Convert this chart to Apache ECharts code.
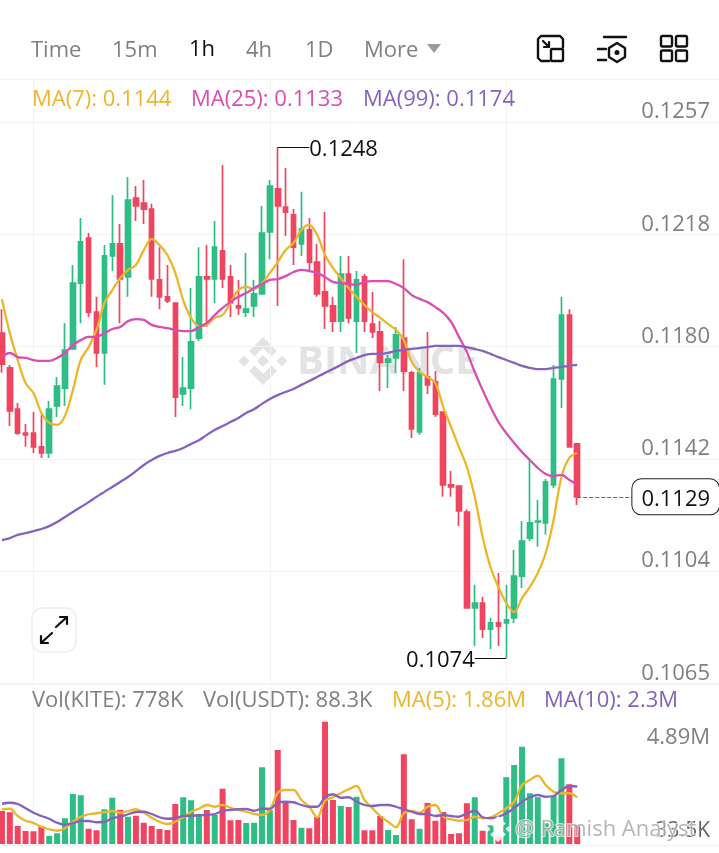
<!DOCTYPE html>
<html><head><meta charset="utf-8">
<style>html,body{margin:0;padding:0;background:#fff}#c{width:719px;height:853px}</style>
<script src="https://cdn.jsdelivr.net/npm/echarts@6/dist/echarts.min.js"></script>
</head><body><div id="c"></div>
<script>
const opens=[0.11848,0.11729,0.11588,0.11506,0.11506,0.11459,0.11438,0.11599,0.11660,0.11794,0.12019,0.12173,0.11920,0.11780,0.12112,0.12153,0.12040,0.12310,0.12293,0.12272,0.12030,0.11972,0.11951,0.11640,0.11660,0.11831,0.12040,0.12033,0.12129,0.12040,0.11941,0.11920,0.11941,0.11982,0.12194,0.12341,0.12279,0.12252,0.12153,0.12201,0.12091,0.11989,0.11941,0.11889,0.12050,0.11889,0.12040,0.11879,0.11852,0.11749,0.11763,0.11831,0.11712,0.11510,0.11698,0.11681,0.11578,0.11329,0.11325,0.11236,0.10908,0.10925,0.10836,0.10857,0.10857,0.10874,0.11017,0.11147,0.11202,0.11199,0.11329,0.11691,0.11910,0.11469];
const closes=[0.11742,0.11582,0.11506,0.11500,0.11459,0.11438,0.11588,0.11667,0.11790,0.12019,0.12160,0.11920,0.11780,0.12112,0.12153,0.12033,0.12303,0.12283,0.12272,0.12033,0.11972,0.11958,0.11629,0.11660,0.11818,0.12040,0.12033,0.12142,0.12033,0.11951,0.11934,0.11930,0.11982,0.12190,0.12351,0.12283,0.12262,0.12142,0.12204,0.12091,0.11982,0.11941,0.11889,0.12050,0.11900,0.12030,0.11889,0.11852,0.11749,0.11759,0.11842,0.11718,0.11520,0.11712,0.11671,0.11571,0.11329,0.11322,0.11240,0.10908,0.10925,0.10836,0.10857,0.10846,0.10867,0.11017,0.11137,0.11199,0.11205,0.11339,0.11691,0.11910,0.11459,0.11288];
const highs=[0.11930,0.11739,0.11609,0.11537,0.11578,0.11568,0.11616,0.11698,0.11882,0.12081,0.12242,0.12190,0.11972,0.12149,0.12320,0.12221,0.12382,0.12351,0.12372,0.12290,0.12142,0.12081,0.11951,0.11766,0.12002,0.12142,0.12149,0.12231,0.12423,0.12081,0.12030,0.12122,0.12030,0.12283,0.12372,0.12484,0.12413,0.12272,0.12331,0.12242,0.12153,0.12262,0.11972,0.12112,0.12112,0.12060,0.12050,0.11989,0.11889,0.11773,0.11869,0.12101,0.11718,0.11729,0.11852,0.11718,0.11578,0.11376,0.11325,0.11246,0.10987,0.10946,0.10874,0.11028,0.10987,0.11106,0.11205,0.11417,0.11277,0.11349,0.11739,0.11972,0.11930,0.11469];
const lows=[0.11712,0.11530,0.11500,0.11459,0.11438,0.11421,0.11421,0.11561,0.11599,0.11790,0.11882,0.11903,0.11732,0.11671,0.12060,0.11882,0.11972,0.12231,0.12221,0.11972,0.11930,0.11951,0.11561,0.11599,0.11588,0.11821,0.11869,0.11951,0.12002,0.11903,0.11910,0.11903,0.11903,0.11982,0.12101,0.11941,0.12180,0.12081,0.12112,0.12064,0.11972,0.11862,0.11852,0.11852,0.11882,0.11780,0.11852,0.11831,0.11650,0.11660,0.11712,0.11650,0.11489,0.11500,0.11640,0.11561,0.11288,0.11288,0.11188,0.10908,0.10778,0.10805,0.10768,0.10778,0.10737,0.10857,0.10976,0.11137,0.11117,0.11158,0.11318,0.11592,0.11459,0.11260];
const ma7=[0.11965,0.11848,0.11756,0.11677,0.11643,0.11575,0.11541,0.11534,0.11565,0.11653,0.11756,0.11800,0.11859,0.11951,0.11995,0.12036,0.12064,0.12081,0.12132,0.12170,0.12149,0.12115,0.12054,0.11961,0.11900,0.11872,0.11876,0.11900,0.11910,0.11951,0.11995,0.12006,0.11999,0.12019,0.12054,0.12091,0.12132,0.12156,0.12201,0.12218,0.12184,0.12115,0.12071,0.12036,0.12002,0.11972,0.11944,0.11920,0.11900,0.11879,0.11859,0.11824,0.11749,0.11715,0.11698,0.11677,0.11595,0.11527,0.11458,0.11390,0.11288,0.11151,0.11048,0.10980,0.10925,0.10894,0.10942,0.10980,0.11028,0.11096,0.11209,0.11356,0.11421,0.11438];
const ma25=[0.11766,0.11780,0.11766,0.11763,0.11756,0.11753,0.11753,0.11763,0.11780,0.11807,0.11824,0.11835,0.11835,0.11848,0.11862,0.11869,0.11889,0.11896,0.11893,0.11876,0.11869,0.11865,0.11859,0.11855,0.11855,0.11869,0.11883,0.11910,0.11934,0.11954,0.11972,0.11985,0.12002,0.12016,0.12030,0.12033,0.12043,0.12057,0.12064,0.12060,0.12054,0.12040,0.12023,0.12019,0.12016,0.12013,0.12023,0.12026,0.12026,0.12026,0.12016,0.12002,0.11978,0.11965,0.11954,0.11937,0.11917,0.11886,0.11835,0.11783,0.11715,0.11653,0.11595,0.11544,0.11506,0.11472,0.11441,0.11414,0.11387,0.11366,0.11359,0.11363,0.11346,0.11329];
const ma99=[0.11140,0.11147,0.11158,0.11164,0.11171,0.11178,0.11188,0.11202,0.11219,0.11236,0.11253,0.11270,0.11288,0.11305,0.11322,0.11339,0.11356,0.11376,0.11397,0.11414,0.11428,0.11438,0.11445,0.11455,0.11469,0.11482,0.11500,0.11517,0.11530,0.11544,0.11558,0.11575,0.11588,0.11606,0.11623,0.11636,0.11647,0.11657,0.11671,0.11684,0.11698,0.11712,0.11725,0.11739,0.11753,0.11763,0.11773,0.11777,0.11777,0.11780,0.11787,0.11790,0.11794,0.11797,0.11800,0.11804,0.11804,0.11804,0.11804,0.11800,0.11794,0.11787,0.11777,0.11766,0.11756,0.11746,0.11736,0.11729,0.11725,0.11725,0.11729,0.11732,0.11736,0.11739];
const volumes=[1.32,1.27,0.72,0.52,0.51,0.72,0.32,0.43,1.03,2.0,1.95,0.61,0.55,1.39,1.85,1.37,1.09,1.13,0.85,0.72,0.6,0.56,1.6,1.87,1.75,1.15,1.36,1.16,2.21,0.95,0.96,0.84,0.85,3.07,1.36,3.76,1.65,0.96,0.65,0.63,1.09,4.89,1.76,1.52,1.48,1.89,0.55,0.55,1.12,0.56,0.36,3.59,0.99,0.61,1.64,0.93,1.28,0.4,0.43,1.63,1.87,0.53,0.75,0.29,2.67,3.16,3.89,2.03,1.87,0.83,1.92,3.43,2.39,0.778];
const volMa5=[1.39,1.41,1.12,0.93,0.84,0.69,0.59,0.53,0.63,0.89,1.09,1.19,1.23,1.27,1.32,1.25,1.32,1.39,1.25,1.05,0.89,0.8,0.89,1.07,1.29,1.41,1.56,1.49,1.56,1.45,1.36,1.29,1.2,1.16,1.36,2.05,2.16,2.16,1.76,1.49,1.07,1.73,1.87,2.03,2.19,2.32,1.76,1.43,1.12,0.89,0.67,1.23,1.32,1.25,1.49,1.56,1.09,0.99,0.93,0.96,1.09,1.03,1.07,1.23,1.43,1.69,2.36,2.56,2.73,2.36,2.09,2.03,2.03,1.86];
const volMa10=[1.61,1.65,1.6,1.43,1.25,1.12,1.01,0.85,0.77,0.83,0.92,0.92,0.87,0.89,1.03,1.09,1.19,1.28,1.29,1.2,1.07,1.01,1.03,1.12,1.13,1.15,1.16,1.2,1.32,1.36,1.39,1.4,1.33,1.41,1.41,1.65,1.69,1.67,1.56,1.49,1.49,1.87,1.99,1.85,1.87,1.69,1.56,1.52,1.56,1.56,1.49,1.39,1.29,1.2,1.2,1.12,1.16,1.12,1.09,1.23,1.33,1.07,1.03,1.09,1.23,1.43,1.69,1.87,1.96,1.89,1.92,2.16,2.32,2.3];
const priceTicks=[0.1065,0.11034,0.11418,0.11802,0.12186,0.1257];
const priceTickLabels=['0.1065','0.1104','0.1142','0.1180','0.1218','0.1257'];
const periodTabs=['Time','15m','1h','4h','1D','More'];
const maLegend=['MA(7): 0.1144','MA(25): 0.1133','MA(99): 0.1174'];
const volLegend=['Vol(KITE): 778K','Vol(USDT): 88.3K','MA(5): 1.86M','MA(10): 2.3M'];
const volTickLabels=['4.89M','33.5K'];
const categories=Array.from({length:92},(_,i)=>String(i));

const GREEN='#2EBD85',RED='#EF4560',YEL='#EDB62A',MAG='#D94DB5',PUR='#8562BE',GRID='#F3F3F3',GRAY='#808080';
const FONT='"Open Sans"';
const txt=(s,x,y,fill,size,extra)=>({type:'text',z:20,style:Object.assign({text:s,x,y,fill,font:size+'px '+FONT,textVerticalAlign:'middle',textBaseline:'middle'},extra||{})});
const stroke=(w,c)=>({stroke:c||'#111',lineWidth:w,fill:'none',lineCap:'round',lineJoin:'round'});
const line=(pts,w,c)=>({type:'polyline',z:20,shape:{points:pts},style:stroke(w,c)});
const box=(x,y,w,h,r,lw,c)=>({type:'rect',z:20,shape:{x,y,width:w,height:h,r},style:stroke(lw,c)});
const poly=(cx,cy,pts,c,z)=>({type:'polygon',z:z,shape:{points:pts.map(p=>[cx+p[0],cy+p[1]])},style:{fill:c}});
const logo=(cx,cy,s,c,z)=>[
  [[0,-6],[6,0],[0,6],[-6,0]],
  [[-19,-5.5],[-13.5,0],[-19,5.5],[-24.5,0]],
  [[19,-5.5],[24.5,0],[19,5.5],[13.5,0]],
  [[0,-24],[14,-10],[8.5,-4.5],[0,-13],[-8.5,-4.5],[-14,-10]],
  [[0,24],[14,10],[8.5,4.5],[0,13],[-8.5,4.5],[-14,10]]
].map(p=>poly(cx,cy,p.map(q=>[q[0]*s,q[1]*s]),c,z));

const graphic=[
  txt(periodTabs[0],31,51,GRAY,22),txt(periodTabs[1],112,51,GRAY,22),
  txt(periodTabs[2],189,50,'#111',22),txt(periodTabs[3],246,51,GRAY,22),
  txt(periodTabs[4],305,51,GRAY,22),txt(periodTabs[5],364,51,GRAY,22),
  {type:'polygon',z:20,shape:{points:[[427,44],[441,44],[434,53]]},style:{fill:'#9a9a9a'}},
  line([[549,61],[541,61],[538,58],[538,39],[541,36],[560,36],[563,39],[563,47]],2.4),
  box(551,49,12,12,1,2.4),line([[543,41],[549,47]],2.2),line([[549,42],[549,47],[544,47]],2.2),
  line([[604,37],[626,37]],2.4),line([[598,49],[606,49]],2.4),line([[598,60],[606,60]],2.4),
  {type:'polygon',z:20,shape:{points:[[617,43],[625,48],[625,57],[617,62],[609,57],[609,48]]},style:stroke(2.4)},
  {type:'circle',z:20,shape:{cx:617,cy:52.5,r:2.5},style:{fill:'#111'}},
  box(661,36,11,10.5,1.5,2.4),box(676,36,11,10.5,1.5,2.4),box(661,50.5,11,10.5,1.5,2.4),box(676,50.5,11,10.5,1.5,2.4),
  txt(maLegend[0],32,100,YEL,22),txt(maLegend[1],191,100,MAG,22),txt(maLegend[2],363,100,PUR,22),
  txt(volLegend[0],32,701,GRAY,22),txt(volLegend[1],203,701,GRAY,22),txt(volLegend[2],392,701,YEL,22),txt(volLegend[3],544,701,PUR,22),
  txt(volTickLabels[0],710,738,GRAY,22,{textAlign:'right'}),
  {type:'rect',z:20,shape:{x:32,y:608,width:44,height:44,r:10},style:{stroke:'#EEEEEE',lineWidth:1.5,fill:'#fff'}},
  line([[56,627],[67,617]],2.2),line([[60,617],[67,617],[67,624]],2.2),
  line([[52,633],[41,643]],2.2),line([[41,636],[41,643],[48,643]],2.2),
  {type:'text',z:-1,style:{text:'BINANCE',x:297,y:363,fill:'#E3E3E3',font:'bold 40px "Open Sans"',textVerticalAlign:'middle',textBaseline:'middle'}},
  ...logo(263,361,1,'#E3E3E3',-1),
  ...logo(498,829,0.55,'rgba(255,255,255,0.85)',30),
  {type:'text',z:30,style:{text:'@ Ramish Analyst',x:515,y:830,fill:'rgba(120,120,120,0.55)',stroke:'rgba(255,255,255,0.7)',lineWidth:2,font:'22px "Open Sans"',textVerticalAlign:'middle',textBaseline:'middle'}},
  txt(volTickLabels[1],710,831,'rgba(70,70,70,0.85)',21,{textAlign:'right'}),
  {type:'line',z:0,shape:{x1:0,y1:79.5,x2:719,y2:79.5},style:{stroke:GRID,lineWidth:1}},
  {type:'line',z:0,shape:{x1:0,y1:684.5,x2:719,y2:684.5},style:{stroke:GRID,lineWidth:1}},
  {type:'line',z:0,shape:{x1:0,y1:845.5,x2:719,y2:845.5},style:{stroke:GRID,lineWidth:1}}
];

const vSplit={show:true,interval:i=>(i%30)===4,alignWithLabel:true,lineStyle:{color:GRID,width:1}};
const maLine=(name,data,color,xi,w)=>({name,type:'line',data,xAxisIndex:xi,yAxisIndex:xi,showSymbol:false,smooth:0.35,z:5,silent:true,lineStyle:{color,width:w||2.3},animation:false});
const richT={t:{color:'#111',fontSize:22,fontFamily:'Open Sans',padding:[5,0,0,0]}};
const calloutLabel={show:true,position:'end',distance:0,rich:richT};
const last=closes[closes.length-1];
const candle=opens.map((o,i)=>[o,closes[i],lows[i],highs[i]]);
const hiIdx=highs.indexOf(Math.max(...highs)), loIdx=lows.indexOf(Math.min(...lows));

const chart=echarts.init(document.getElementById('c'),null,{renderer:'canvas'});
chart.setOption({
  animation:false,backgroundColor:'#fff',
  grid:[{left:-2,width:725,top:79,height:605,outerBoundsMode:'none'},{left:-2,width:725,top:684,height:160,outerBoundsMode:'none'}],
  xAxis:[0,1].map(i=>({type:'category',gridIndex:i,data:categories,axisLine:{show:false},axisTick:{show:false},axisLabel:{show:false},splitLine:vSplit})),
  yAxis:[
    {type:'value',gridIndex:0,min:0.10648,max:0.12717,position:'right',scale:true,axisLine:{show:false},
     axisTick:{show:false,customValues:priceTicks},
     axisLabel:{inside:true,margin:13,color:GRAY,fontSize:22,fontFamily:'Open Sans',verticalAlign:'bottom',showMinLabel:true,showMaxLabel:true,customValues:priceTicks,lineHeight:20,
       formatter:v=>{const k=priceTicks.findIndex(t=>Math.abs(t-v)<1e-6);return k<0?'':priceTickLabels[k];}},
     splitLine:{show:true,customValues:priceTicks,showMinLine:true,showMaxLine:true,lineStyle:{color:GRID,width:1}}},
    {type:'value',gridIndex:1,min:0,max:6.4,position:'right',axisLine:{show:false},axisTick:{show:false},axisLabel:{show:false},splitLine:{show:false}}
  ],
  graphic:{elements:graphic},
  series:[
    {name:'KITE',type:'candlestick',data:candle,xAxisIndex:0,yAxisIndex:0,barWidth:5,z:4,silent:true,
     itemStyle:{color:GREEN,color0:RED,borderColor:GREEN,borderColor0:RED,borderWidth:1.7},
     markLine:{silent:true,symbol:'none',animation:false,precision:5,data:[
       [{coord:[hiIdx,highs[hiIdx]],lineStyle:{color:'#111',width:1,type:'solid'},label:Object.assign({},calloutLabel,{formatter:'{t|0.1248}'})},{coord:[hiIdx+4,highs[hiIdx]]}],
       [{coord:[loIdx,lows[loIdx]],lineStyle:{color:'#111',width:1,type:'solid'},label:Object.assign({},calloutLabel,{formatter:'{t|0.1074}'})},{coord:[loIdx-4,lows[loIdx]]}],
       [{coord:[73,last],lineStyle:{color:'#666',width:1,type:'dashed'},label:Object.assign({},calloutLabel,{formatter:'{t|0.1129}',backgroundColor:'#fff',borderColor:'#222',borderWidth:1,borderRadius:9,padding:[4,9,4,9]})},{coord:[80,last]}]
     ]}},
    maLine('MA7',ma7,YEL,0),maLine('MA25',ma25,MAG,0),maLine('MA99',ma99,PUR,0),
    {name:'Vol',type:'bar',data:volumes.map((v,i)=>({value:v,itemStyle:{color:closes[i]>=opens[i]?GREEN:RED}})),xAxisIndex:1,yAxisIndex:1,barWidth:6,z:4,silent:true},
    maLine('VolMA5',volMa5,YEL,1),maLine('VolMA10',volMa10,PUR,1)
  ]
});
</script></body></html>
